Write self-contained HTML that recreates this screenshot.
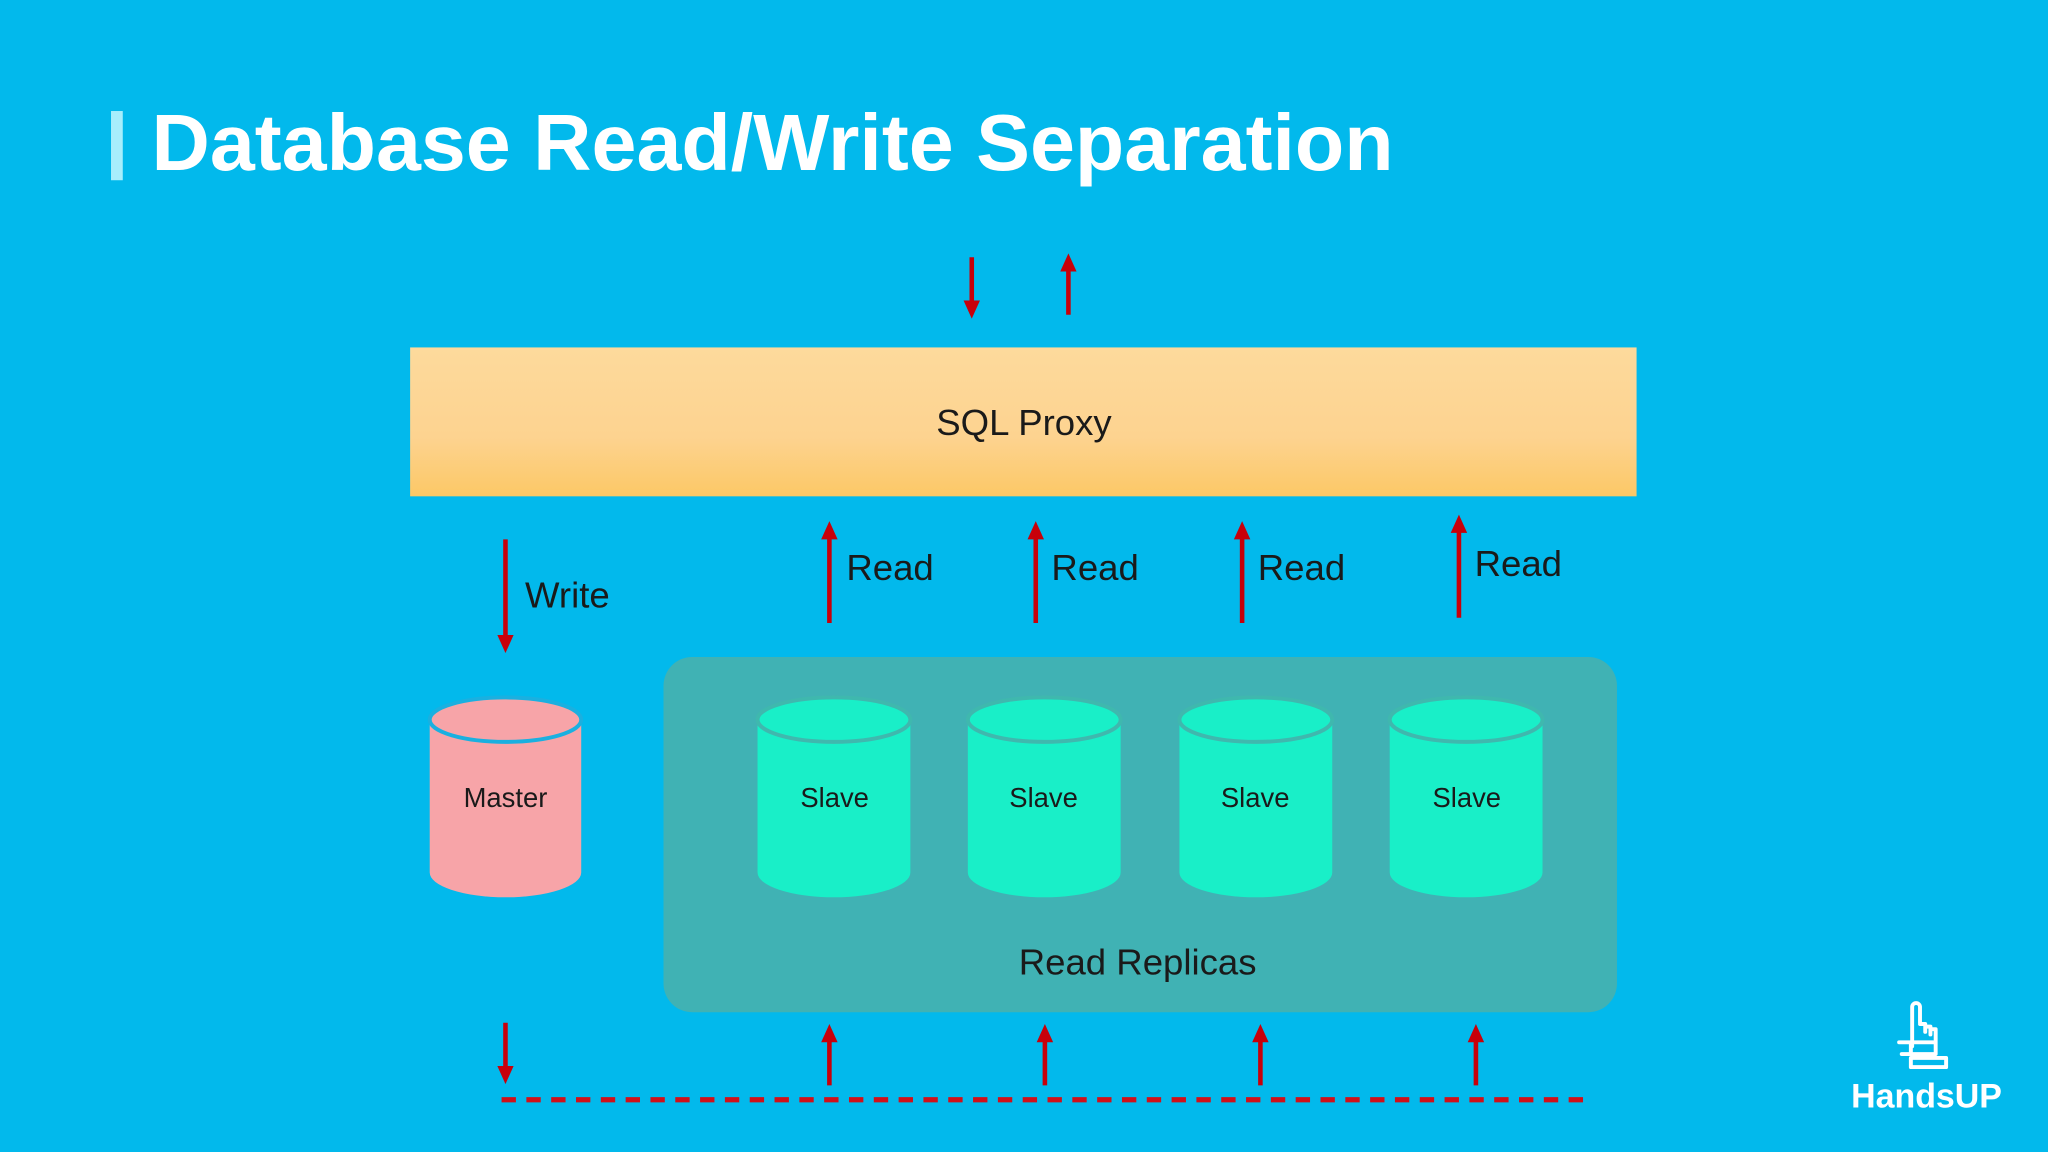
<!DOCTYPE html>
<html><head><meta charset="utf-8"><style>
html,body{margin:0;padding:0;background:#02b9ec;}
svg{display:block}
text{font-family:"Liberation Sans",sans-serif;}
</style></head><body>
<svg width="2048" height="1152" viewBox="0 0 1568 882" xmlns="http://www.w3.org/2000/svg">
<defs>
<linearGradient id="g" x1="0" y1="0" x2="0" y2="1">
<stop offset="0" stop-color="#fdda9c"/><stop offset="0.6" stop-color="#fdd390"/><stop offset="1" stop-color="#fcc866"/>
</linearGradient>
<marker id="a" markerWidth="4" markerHeight="4" refX="2" refY="2" orient="auto" markerUnits="strokeWidth">
<path d="M0,0.2 L4,2 L0,3.8 z" fill="#c8000a"/></marker>
</defs>
<rect width="1568" height="882" fill="#02b9ec"/>
<rect x="85" y="85" width="9" height="53" fill="#a8eefc"/>
<text x="116" y="130" font-size="61" font-weight="bold" fill="#fff" textLength="951" lengthAdjust="spacingAndGlyphs">Database Read/Write Separation</text>
<g stroke="#c8000a" stroke-width="3.5" fill="none" marker-end="url(#a)">
<line x1="744" y1="197" x2="744" y2="237"/>
<line x1="818" y1="241" x2="818" y2="201"/>
<line x1="387" y1="413" x2="387" y2="493"/>
<line x1="635" y1="477" x2="635" y2="406"/>
<line x1="793" y1="477" x2="793" y2="406"/>
<line x1="951" y1="477" x2="951" y2="406"/>
<line x1="1117" y1="473" x2="1117" y2="401"/>
<line x1="387" y1="783" x2="387" y2="823"/>
<line x1="635" y1="831" x2="635" y2="791"/>
<line x1="800" y1="831" x2="800" y2="791"/>
<line x1="965" y1="831" x2="965" y2="791"/>
<line x1="1130" y1="831" x2="1130" y2="791"/>
</g>
<line x1="384" y1="842" x2="1218" y2="842" stroke="#d0101a" stroke-width="4" stroke-dasharray="11,8"/>
<rect x="314" y="266" width="939" height="114" fill="url(#g)"/>
<text x="784" y="333" font-size="28" text-anchor="middle" fill="#1a1a1a">SQL Proxy</text>
<g font-size="28" fill="#1a1a1a">
<text x="402" y="465">Write</text>
<text x="648" y="444">Read</text>
<text x="805" y="444">Read</text>
<text x="963" y="444">Read</text>
<text x="1129" y="441">Read</text>
</g>
<rect x="508" y="503" width="730" height="272" rx="22" fill="#40b2b4"/>
<text x="871" y="746" font-size="28" text-anchor="middle" fill="#1a1a1a">Read Replicas</text>
<g>
<path d="M329,551 V668 A58,19 0 0 0 445,668 V551 Z" fill="#f7a4a8"/>
<ellipse cx="387" cy="551" rx="58" ry="17" fill="#f7a4a8" stroke="#1ab0e0" stroke-width="3"/>
<text x="387" y="618" font-size="21" text-anchor="middle" fill="#1a1a1a">Master</text>
</g>
<g fill="#19efc8" stroke="none">
<path d="M580,551 V668 A58.5,19 0 0 0 697,668 V551 Z"/>
<ellipse cx="638.5" cy="551" rx="58.5" ry="17" stroke="#3fb8ae" stroke-width="3"/>
<path d="M741,551 V668 A58.5,19 0 0 0 858,668 V551 Z"/>
<ellipse cx="799.5" cy="551" rx="58.5" ry="17" stroke="#3fb8ae" stroke-width="3"/>
<path d="M903,551 V668 A58.5,19 0 0 0 1020,668 V551 Z"/>
<ellipse cx="961.5" cy="551" rx="58.5" ry="17" stroke="#3fb8ae" stroke-width="3"/>
<path d="M1064,551 V668 A58.5,19 0 0 0 1181,668 V551 Z"/>
<ellipse cx="1122.5" cy="551" rx="58.5" ry="17" stroke="#3fb8ae" stroke-width="3"/>
</g>
<g font-size="21" text-anchor="middle" fill="#1a1a1a">
<text x="639" y="618">Slave</text>
<text x="799" y="618">Slave</text>
<text x="961" y="618">Slave</text>
<text x="1123" y="618">Slave</text>
</g>
<g stroke="#fff" stroke-width="3" fill="none" stroke-linecap="round" stroke-linejoin="round">
<path d="M1464,801 V771 a3,3 0 0 1 6,0 V783 M1470,784 h4 v6 M1474,786 h4 v6 M1478,788 h4 v19 H1456 M1454,798 H1480 M1463,798 V807"/>
<rect x="1463" y="810" width="27" height="7"/>
</g>
<text x="1475" y="848" font-size="26" font-weight="bold" text-anchor="middle" fill="#fff">HandsUP</text>
</svg>
</body></html>
